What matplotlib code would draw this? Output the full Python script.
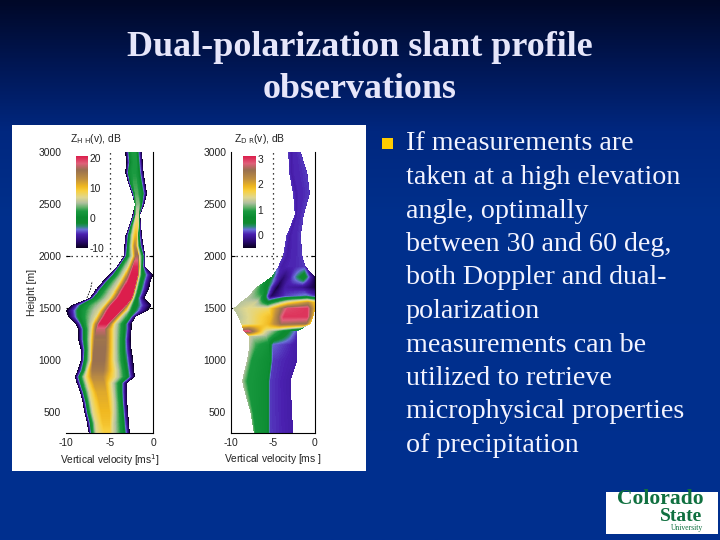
import numpy as np
import matplotlib
matplotlib.use("Agg")
import matplotlib.pyplot as plt
from matplotlib.colors import LinearSegmentedColormap
from matplotlib.patches import Rectangle

W, H = 720, 540
title_lines = ["Dual-polarization slant profile", "observations"]
body_lines = ["If measurements are", "taken at a high elevation", "angle, optimally",
              "between 30 and 60 deg,", "both Doppler and dual-", "polarization",
              "measurements can be", "utilized to retrieve", "microphysical properties",
              "of precipitation"]
height_ticks = [500, 1000, 1500, 2000, 2500, 3000]
velocity_ticks = [-10, -5, 0]

# ---- Z_HH panel: contour positions (velocity) per height row
hh_h = [303, 400, 500, 600, 700, 780, 840, 900, 1000, 1100, 1200, 1300, 1350, 1420, 1480, 1530, 1600, 1680, 1750,
        1820, 1900, 2000, 2100, 2200, 2300, 2400, 2500, 2600, 2700, 2800, 2900, 3000]
hh_outer_l = [-7.4, -7.6, -7.9, -8.1, -8.4, -8.8, -9.0, -8.7, -8.3, -8.3, -8.6, -8.6, -8.9, -9.8, -10, -9.4, -7.3, -6.6, -5.9,
              -5.1, -4.2, -3.4, -3.3, -3.2, -2.8, -2.4, -2.1, -2.5, -2.9, -3.2, -3.1, -3.2]
hh_green_l = [-7.0, -7.1, -7.4, -7.6, -7.9, -8.2, -8.4, -8.0, -7.8, -7.7, -7.8, -7.8, -8.0, -8.3, -8.3, -8.0, -6.7, -5.9, -5.2,
              -4.4, -3.8, -3.0, -2.9, -2.8, -2.5, -2.1, -2.2, -2.2, -2.6, -2.8, -2.6, -2.7]
hh_yellow_l = [-6.5, -6.6, -6.9, -7.1, -7.3, -7.6, -7.8, -7.6, -7.2, -7.2, -7.2, -7.1, -7.0, -6.6, -6.2, -5.7, -5.0, -4.4, -3.9,
               -3.4, -2.9, -2.4, -2.5, -2.4, -2.2, -2.0, -1.9, -2.1, -2.3, -2.4, -2.3, -2.4]
hh_core_l = [-5.6, -5.8, -6.0, -6.2, -6.5, -6.8, -7.0, -7.0, -6.9, -6.8, -6.7, -6.5, -6.2, -5.6, -5.2, -4.8, -4.0, -3.4, -2.9,
             -2.6, -2.3, -2.0, -2.2, -2.1, -2.0, -1.9, -1.8, -2.0, -2.2, -2.3, -2.2, -2.3]
hh_core_r = [-5.0, -5.0, -5.0, -5.2, -5.4, -5.6, -5.8, -5.7, -5.6, -5.5, -5.4, -5.6, -5.3, -4.5, -3.8, -3.2, -2.5, -2.2, -2.0,
             -1.8, -1.8, -1.7, -2.0, -1.9, -1.8, -1.8, -1.7, -1.9, -2.0, -2.1, -2.0, -2.1]
hh_yellow_r = [-4.7, -4.7, -4.6, -4.6, -4.7, -4.8, -4.3, -4.3, -4.5, -4.5, -4.5, -4.5, -4.4, -3.7, -3.0, -2.7, -2.3, -2.0, -1.8,
               -1.6, -1.5, -1.6, -1.8, -1.8, -1.7, -1.7, -1.6, -1.8, -1.9, -2.0, -1.9, -2.0]
hh_green_r = [-3.4, -3.5, -3.6, -3.7, -3.8, -3.8, -3.1, -3.2, -3.4, -3.5, -3.5, -3.4, -3.4, -2.8, -2.5, -2.3, -2.0, -1.7, -1.5,
              -1.3, -1.3, -1.2, -1.6, -1.7, -1.6, -1.6, -1.4, -1.3, -1.5, -1.7, -1.8, -1.9]
hh_outer_r = [-2.7, -2.8, -2.9, -3.0, -3.0, -3.0, -2.1, -2.2, -2.3, -2.5, -2.6, -2.5, -2.5, -2.0, -0.6, -0.2, -1.0, -0.5, -0.3,
              0.0, -0.9, -0.9, -1.1, -1.3, -1.4, -1.5, -1.0, -0.7, -0.9, -1.1, -1.2, -1.3]
hh_core_val = [8.5, 9.5, 10, 10.5, 11, 12, 13, 14.5, 15.5, 15.5, 15, 17, 20, 20.5, 20.5, 20.5, 20.5, 20.5, 20.5,
               20, 19.5, 16, 13, 10, 8, 6, 4, 3, 2.5, 2, 2, 2]

# ---- Z_DR panel: positions and values per height row
dr_h = [303, 500, 800, 1000, 1150, 1230, 1280, 1350, 1420, 1500, 1560, 1620, 1700, 1800, 1900, 2000, 2200, 2400, 2600, 2800, 3000]
dr_v1 = [-7.3, -7.7, -8.7, -8.1, -7.8, -7.9, -8.5, -8.8, -9.2, -9.7, -8.9, -7.9, -7.0, -5.2, -4.4, -3.8, -3.4, -2.4, -2.6, -3.1, -3.2]
dr_v2 = [-7.0, -7.3, -8.0, -7.5, -7.0, -7.5, -8.0, -7.8, -7.8, -8.0, -7.0, -6.4, -5.8, -4.6, -3.9, -3.3, -3.0, -2.2, -2.2, -2.8, -2.8]
dr_v3 = [-5.7, -5.7, -5.7, -5.4, -5.5, -5.8, -6.0, -5.5, -5.2, -5.6, -5.6, -5.2, -4.5, -3.7, -3.2, -2.8, -2.7, -2.1, -2.0, -2.5, -2.6]
dr_v4 = [-5.3, -5.3, -5.3, -5.0, -5.0, -4.7, -4.5, -4.0, -3.7, -3.3, -3.2, -3.6, -3.6, -3.0, -2.6, -2.4, -2.3, -1.9, -1.6, -2.1, -2.3]
dr_v5 = [-2.7, -2.8, -3.0, -2.2, -2.2, -2.2, -2.2, -1.0, -0.9, -0.9, -0.8, -1.0, -1.5, -1.3, -1.2, -1.6, -1.8, -1.4, -0.7, -1.0, -1.8]
dr_v6 = [-2.6, -2.7, -2.9, -2.1, -2.1, -2.1, -2.1, -0.5, -0.2, 0.0, 0.0, 0.0, 0.0, 0.0, -1.1, -1.5, -1.7, -1.3, -0.6, -0.9, -1.7]
dr_z1 = [1.1, 1.2, 1.3, 1.3, 1.3, 1.4, 2.9, 1.4, 1.3, 1.3, 1.3, 1.3, 1.2, 0.6, 0.1, 0.1, 0.1, 0.1, 0.1, 0.1, 0.1]
dr_z2 = [0.85, 0.85, 0.9, 0.9, 1.0, 1.3, 3.0, 1.5, 1.5, 1.5, 1.4, 1.0, 0.6, 0.1, 0.0, 0.0, 0.0, 0.0, 0.0, 0.0, 0.0]
dr_z3 = [0.75, 0.75, 0.75, 0.75, 0.8, 1.2, 1.5, 1.9, 1.9, 1.6, 0.6, -0.3, -0.4, -0.2, 0.05, 0.05, 0.05, 0.05, 0.05, 0.05, 0.05]
dr_z4 = [0.1, 0.1, 0.1, 0.1, 0.2, 0.8, 1.0, 2.6, 3.0, 2.9, 1.6, 0.1, 0.0, 0.0, 0.05, 0.05, 0.05, 0.05, 0.05, 0.05, 0.05]
dr_z5 = [0.0, 0.0, 0.0, 0.0, 0.0, 0.05, 0.15, 2.5, 3.0, 3.0, 2.2, 0.3, -0.1, 0.7, 0.1, 0.1, 0.1, 0.1, 0.1, 0.1, 0.1]
dr_z6 = [0.0, 0.0, 0.0, 0.0, 0.0, 0.05, 0.15, 1.7, 1.9, 1.9, 1.8, 0.1, -0.4, -0.4, 0.05, 0.05, 0.05, 0.05, 0.05, 0.05, 0.05]

stops = [(0.00, "#0a0020"), (0.07, "#2a0a70"), (0.15, "#4a20b0"), (0.20, "#6a70d8"), (0.235, "#2a8a70"),
         (0.27, "#108a30"), (0.33, "#0a8a30"), (0.40, "#1a9a40"), (0.44, "#60b068"), (0.49, "#b0c0a0"),
         (0.55, "#e0d890"), (0.62, "#f8d040"), (0.67, "#f0b820"), (0.75, "#c09040"), (0.85, "#987050"),
         (0.92, "#e0607a"), (1.00, "#dc1e4c")]
cmap = LinearSegmentedColormap.from_list("zcm", stops, N=256)

plt.rcParams["font.family"] = "Liberation Sans"
plt.rcParams["axes.unicode_minus"] = False
fig = plt.figure(figsize=(7.2, 5.4), dpi=100)


def axes_px(x0, y0, x1, y1, **kw):
    return fig.add_axes([x0 / W, 1 - y1 / H, (x1 - x0) / W, (y1 - y0) / H], **kw)


# slide background
bg = axes_px(0, 0, W, H)
bg.set_xlim(0, W); bg.set_ylim(H, 0); bg.axis("off")
grad = LinearSegmentedColormap.from_list("bg", [(0, "#000828"), (0.13, "#001858"), (0.24, "#00277f"),
                                                (0.40, "#00308c"), (1, "#002f8f")])
bg.imshow(np.linspace(0, 1, 256)[:, None], cmap=grad, aspect="auto", extent=(0, W, H, 0), zorder=0)
bg.add_patch(Rectangle((12, 125), 354, 346, fc="white", ec="none", zorder=1))
bg.add_patch(Rectangle((382, 138), 10.5, 11, fc="#ffcc00", ec="none", zorder=1))
bg.add_patch(Rectangle((606, 492), 112, 42, fc="white", ec="none", zorder=1))
serif = "Liberation Serif"
for txt, y in zip(title_lines, [47, 90]):
    bg.text(360, y, txt, color="#e6e6fa", fontsize=25.9, family=serif, weight="bold", ha="center", va="center", zorder=3)
for i, txt in enumerate(body_lines):
    y = 144 + i * 33.5
    bg.text(406, y, txt, color="#f4f4ff", fontsize=20.2, family=serif, ha="left", va="center", zorder=3)
logo = "#107040"
bg.text(660, 499.5, "Colorado", color=logo, fontsize=15.5, family=serif, weight="bold", ha="center", va="center", zorder=3)
bg.text(681, 516.5, "State", color=logo, fontsize=14, family=serif, weight="bold", ha="center", va="center", zorder=3)
bg.text(687, 528, "University", color=logo, fontsize=5.5, family=serif, ha="center", va="center", zorder=3)

vmin_hh, vmax_hh = -10, 20
vmin_dr, vmax_dr = -0.5, 3.1


def draw_field(ax, h_rows, pos_cols, val_cols, vmin, vmax):
    vg = np.linspace(-10, 0, 260)
    hg = np.linspace(303, 3000, 560)
    zrows = np.full((hg.size, vg.size), np.nan)
    for i, h in enumerate(hg):
        pos = [np.interp(h, h_rows, c) for c in pos_cols]
        val = [np.interp(h, h_rows, c) for c in val_cols]
        zrows[i] = np.interp(vg, pos, val, left=np.nan, right=np.nan)
    ax.pcolormesh(vg, hg, np.ma.masked_invalid(zrows), cmap=cmap, vmin=vmin, vmax=vmax, shading="auto", zorder=2)


def style(ax, left_spine, xlabel):
    ax.set_xlim(-10, 0); ax.set_ylim(303, 3000)
    ax.set_xticks(velocity_ticks); ax.set_yticks(height_ticks)
    ax.tick_params(axis="both", labelsize=7.4, direction="in", length=0, pad=3.5, labelcolor="#222222")
    ax.tick_params(axis="y", right=True)
    for t, loc in zip(ax.yaxis.get_major_ticks(), height_ticks):
        if loc in (1500, 2000):
            t.tick1line.set_markersize(3); t.tick2line.set_markersize(3)
    ax.spines["top"].set_visible(False)
    ax.spines["left"].set_visible(left_spine)
    ax.set_xlabel(xlabel, fontsize=7.4, labelpad=1, color="#222222")
    ax.xaxis.set_label_coords(0.5, -0.068)
    ax.axhline(2000, color="black", lw=0.9, ls=(0, (1, 3)), zorder=1)
    ax.plot([-5, -5], [1880, 3000], color="black", lw=0.9, ls=(0, (1, 3)), zorder=1)
    ax.patch.set_alpha(0)


# left panel
axL = axes_px(66, 152, 153.3, 433)
hh_pos = [hh_outer_l, hh_green_l, hh_yellow_l, hh_core_l, hh_core_r, hh_yellow_r, hh_green_r, hh_outer_r]
hh_mid = np.minimum(6.5, hh_core_val)
hh_vals = [np.full(len(hh_h), -10.0), np.minimum(0.5, hh_core_val), hh_mid, hh_core_val, hh_core_val, hh_mid,
           np.minimum(0.5, hh_core_val), np.full(len(hh_h), -10.0)]
draw_field(axL, hh_h, hh_pos, hh_vals, vmin_hh, vmax_hh)
style(axL, False, "Vertical velocity [ms$^{1}$]")
axL.set_ylabel("Height [m]", fontsize=7.4, color="#222222")
axL.yaxis.set_label_coords(-0.33, 0.5)
axL.plot([-7.6, -7.2, -7.0], [1600, 1680, 1760], color="black", lw=0.6, ls=(0, (2, 1.5)), zorder=3)
fig.text(96 / W, 1 - 139 / H, r"Z$_{\mathrm{H\ H}}$(v), dB", fontsize=7.4, ha="center", va="center", color="#222222")

# right panel
axR = axes_px(231, 152, 315, 433)
draw_field(axR, dr_h, [dr_v1, dr_v2, dr_v3, dr_v4, dr_v5, dr_v6], [dr_z1, dr_z2, dr_z3, dr_z4, dr_z5, dr_z6], vmin_dr, vmax_dr)
style(axR, True, "Vertical velocity [ms$^{\\ }$]")
fig.text(260 / W, 1 - 139 / H, r"Z$_{\mathrm{D\ R}}$(v), dB", fontsize=7.4, ha="center", va="center", color="#222222")


def cbar(x0, x1, vmin, vmax, ticks):
    cax = axes_px(x0, 156, x1, 248)
    cax.imshow(np.linspace(1, 0, 256)[:, None], cmap=cmap, aspect="auto", extent=(0, 1, vmin, vmax))
    cax.set_xticks([]); cax.yaxis.tick_right(); cax.set_yticks(ticks)
    cax.tick_params(axis="y", length=0, pad=1, labelsize=7.4, labelcolor="#222222")
    for s in cax.spines.values():
        s.set_visible(False)


cbar(76, 88, -10, 20.8, [-10, 0, 10, 20])
cbar(243, 256, vmin_dr, vmax_dr, [0, 1, 2, 3])

fig.savefig("out.png", dpi=100)
